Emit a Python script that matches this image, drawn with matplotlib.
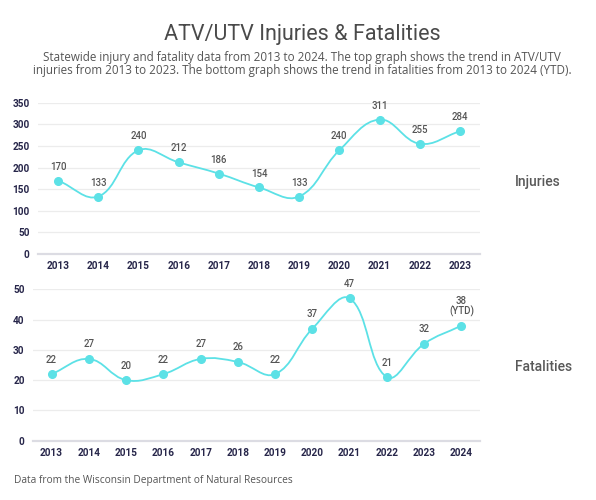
import numpy as np
import matplotlib
matplotlib.use("Agg")
import matplotlib.pyplot as plt
from matplotlib.path import Path
from matplotlib.patches import PathPatch

# ---- data ----
inj_years = [2013, 2014, 2015, 2016, 2017, 2018, 2019, 2020, 2021, 2022, 2023]
inj_values = [170, 133, 240, 212, 186, 154, 133, 240, 311, 255, 284]
fat_years = [2013, 2014, 2015, 2016, 2017, 2018, 2019, 2020, 2021, 2022, 2023, 2024]
fat_values = [22, 27, 20, 22, 27, 26, 22, 37, 47, 21, 32, 38]
fat_labels = ["22", "27", "20", "22", "27", "26", "22", "37", "47", "21", "32", "38\n(YTD)"]
inj_yticks = [0, 50, 100, 150, 200, 250, 300, 350]
fat_yticks = [0, 10, 20, 30, 40, 50]

title = "ATV/UTV Injuries & Fatalities"
subtitle = ("Statewide injury and fatality data from 2013 to 2024. The top graph shows the trend in ATV/UTV\n"
            "injuries from 2013 to 2023. The bottom graph shows the trend in fatalities from 2013 to 2024 (YTD).")
footer = "Data from the Wisconsin Department of Natural Resources"

LINE = "#5ce1e6"
TICK = "#27264a"
LAB = "#555555"
W, H = 596, 500

fig = plt.figure(figsize=(W / 100, H / 100), dpi=100)
fig.patch.set_facecolor("white")


def px_axes(l, r, t, b):
    return fig.add_axes([l / W, 1 - b / H, (r - l) / W, (b - t) / H])


def smooth_curve(ax, xs, ys, tension=0.4):
    pts = ax.transData.transform(np.column_stack([xs, ys]))
    n = len(pts)
    cps_prev = np.zeros_like(pts)
    cps_next = np.zeros_like(pts)
    for i in range(n):
        p0 = pts[max(i - 1, 0)]
        p1 = pts[i]
        p2 = pts[min(i + 1, n - 1)]
        d01 = np.hypot(*(p1 - p0))
        d12 = np.hypot(*(p2 - p1))
        tot = d01 + d12
        s01 = d01 / tot if tot else 0
        s12 = d12 / tot if tot else 0
        cps_prev[i] = p1 - tension * s01 * (p2 - p0)
        cps_next[i] = p1 + tension * s12 * (p2 - p0)
    verts = [pts[0]]
    codes = [Path.MOVETO]
    for i in range(n - 1):
        verts += [cps_next[i], cps_prev[i + 1], pts[i + 1]]
        codes += [Path.CURVE4] * 3
    inv = ax.transData.inverted()
    verts = inv.transform(np.array(verts))
    patch = PathPatch(Path(verts, codes), facecolor="none", edgecolor=LINE,
                      lw=1.3, zorder=3, capstyle="round")
    ax.add_patch(patch)


def style_axes(ax, xs, yticks, ylim):
    ax.set_xlim(xs[0] - 0.5, xs[-1] + 0.5)
    ax.set_ylim(*ylim)
    ax.set_xticks(xs)
    ax.set_xticklabels([str(x) for x in xs], fontsize=7.2, fontweight="bold",
                       color=TICK, family="Roboto")
    ax.set_yticks(yticks)
    ax.set_yticklabels([str(v) for v in yticks], fontsize=7.2, fontweight="bold",
                       color=TICK, family="Roboto")
    ax.tick_params(axis="both", length=0)
    ax.tick_params(axis="x", pad=5)
    ax.tick_params(axis="y", pad=6)
    for s in ["top", "right", "left"]:
        ax.spines[s].set_visible(False)
    ax.spines["bottom"].set_color("#dcdce3")
    ax.spines["bottom"].set_linewidth(1.6)
    ax.grid(axis="y", color="#ececec", lw=0.9)
    ax.set_axisbelow(True)
    ax.set_facecolor("none")


# ---- top: injuries ----
ax1 = px_axes(38, 480, 102.7, 254)
style_axes(ax1, inj_years, inj_yticks, (0, 350))
fig.canvas.draw()
smooth_curve(ax1, inj_years, inj_values)
ax1.plot(inj_years, inj_values, "o", color=LINE, ms=5.5, zorder=4, clip_on=False)
for x, v in zip(inj_years, inj_values):
    ax1.annotate(str(v), (x, v), xytext=(0, 10), textcoords="offset points",
                 ha="center", va="center", fontsize=6.9, color=LAB, family="Roboto",
                 fontweight="medium")

# ---- bottom: fatalities ----
ax2 = px_axes(33, 480, 289.3, 440.7)
style_axes(ax2, fat_years, fat_yticks, (0, 50))
fig.canvas.draw()
smooth_curve(ax2, fat_years, fat_values)
ax2.plot(fat_years, fat_values, "o", color=LINE, ms=5.5, zorder=4, clip_on=False)
for x, v, lab in zip(fat_years, fat_values, fat_labels):
    if "\n" in lab:
        ax2.annotate(lab, (x, v), xytext=(0, 13.5), textcoords="offset points",
                     ha="center", va="center", fontsize=6.9, color=LAB,
                     family="Roboto", fontweight="medium", linespacing=0.95)
    else:
        ax2.annotate(lab, (x, v), xytext=(0, 10.5), textcoords="offset points",
                     ha="center", va="center", fontsize=6.9, color=LAB,
                     family="Roboto", fontweight="medium")

# ---- texts ----
fig.text(302 / W, 1 - 34 / H, title, ha="center", va="center", fontsize=15.5,
         color="#4a4a4a", family="Roboto")
fig.text(302 / W, 1 - 64 / H, subtitle, ha="center", va="center", fontsize=8.4,
         color="#555555", family="Open Sans", linespacing=0.92)
fig.text(515 / W, 1 - 182 / H, "Injuries", ha="left", va="center", fontsize=10,
         color="#595959", family="Roboto", fontweight="medium")
fig.text(515 / W, 1 - 367 / H, "Fatalities", ha="left", va="center", fontsize=10,
         color="#595959", family="Roboto", fontweight="medium")
fig.text(14 / W, 1 - 481 / H, footer, ha="left", va="center", fontsize=7.3,
         color="#555555", family="Open Sans")

fig.savefig("out.png", dpi=100, facecolor="white")
